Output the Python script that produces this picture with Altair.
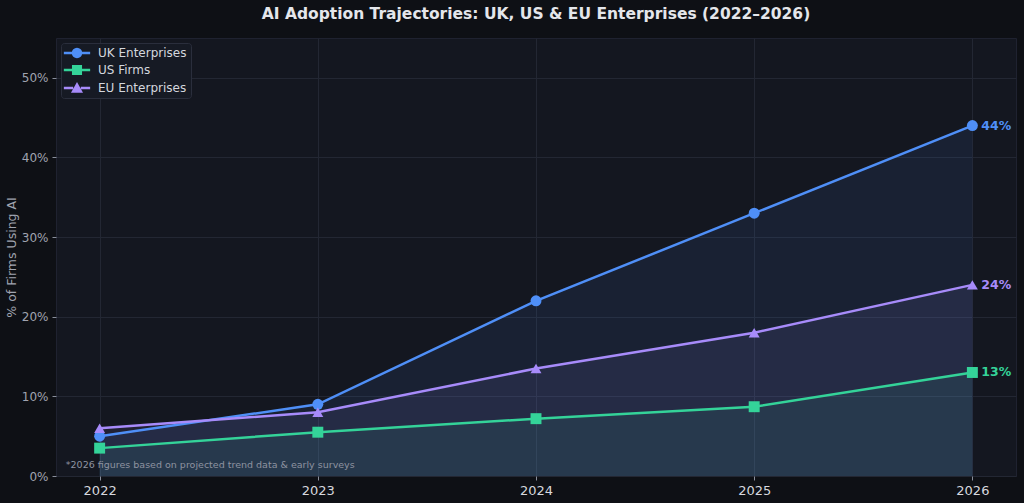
import math
import altair as alt
import pandas as pd

years = [2022, 2023, 2024, 2025, 2026]
series_names = ["UK Enterprises", "US Firms", "EU Enterprises"]
uk = [5, 9, 22, 33, 44]
us = [3.5, 5.5, 7.2, 8.7, 13]
eu = [6, 8, 13.5, 18, 24]
colors = ["#4f8ff7", "#34d399", "#a78bfa"]
shapes = ["circle", "square", "triangle-up"]
y_ticks = [0, 10, 20, 30, 40, 50]
footnote = "*2026 figures based on projected trend data & early surveys"

rows = []
for name, vals in zip(series_names, [uk, us, eu]):
    for yr, v in zip(years, vals):
        rows.append({"year": yr, "value": v, "series": name})
df = pd.DataFrame(rows)
df["label"] = df["value"].map(lambda v: f"{v:g}%")


# legend symbols: a short line with the marker on it (custom SVG paths, unit coords)
def _poly(pts):
    return "M" + " L".join(f"{x:.3f},{y:.3f}" for x, y in pts) + " Z"


def _line_bits(half_len=2.4, half_th=0.23, gap=0.7):
    return (_poly([(-half_len, -half_th), (-gap, -half_th), (-gap, half_th), (-half_len, half_th)]) +
            _poly([(gap, -half_th), (half_len, -half_th), (half_len, half_th), (gap, half_th)]))


_circle = _poly([(0.95 * math.cos(2 * math.pi * k / 32), 0.95 * math.sin(2 * math.pi * k / 32))
                 for k in range(32)])
_square = _poly([(-0.92, -0.92), (0.92, -0.92), (0.92, 0.92), (-0.92, 0.92)])
_tri = _poly([(0, -1.1), (1.1, 0.85), (-1.1, 0.85)])
legend_shapes = [_line_bits() + _circle, _line_bits() + _square, _line_bits() + _tri]

FONT = "DejaVu Sans"
xs = alt.Scale(domain=[2021.8, 2026.2], nice=False, zero=False)
ys = alt.Scale(domain=[0, 55], nice=False)
cs = alt.Scale(domain=series_names, range=colors)
ss = alt.Scale(domain=series_names, range=legend_shapes)

x_enc = alt.X("year:Q", scale=xs, title=None,
              axis=alt.Axis(values=years, format="d", labelColor="#d6d8de", labelFontSize=13,
                            tickColor="#8a8f9c", tickSize=4, labelPadding=4,
                            gridColor="#232733", domain=False))
y_enc = alt.Y("value:Q", scale=ys, title="% of Firms Using AI", stack=None,
              axis=alt.Axis(values=y_ticks, labelExpr="datum.value + '%'", labelColor="#a0a4b0",
                            labelFontSize=12, tickColor="#8a8f9c", tickSize=4, labelPadding=4,
                            titleColor="#a0a4b0", titleFontSize=12.5, titleFontWeight="normal",
                            titlePadding=3, gridColor="#232733", domain=False))
x_plain = alt.X("year:Q", scale=xs)
y_plain = alt.Y("value:Q", scale=ys, stack=None)

layers = []
for i, (name, c) in enumerate(zip(series_names, colors)):
    base = alt.Chart(df).transform_filter(alt.datum.series == name)
    layers.append(base.mark_area(opacity=0.09, color=c).encode(
        x=x_enc if i == 0 else x_plain, y=y_enc if i == 0 else y_plain))
for name, c in zip(series_names, colors):
    base = alt.Chart(df).transform_filter(alt.datum.series == name)
    layers.append(base.mark_line(strokeWidth=2.5, color=c).encode(x=x_plain, y=y_plain))
for name, c, s in zip(series_names, colors, shapes):
    base = alt.Chart(df).transform_filter(alt.datum.series == name)
    layers.append(base.mark_point(filled=True, opacity=1, size=120, color=c, shape=s)
                  .encode(x=x_plain, y=y_plain))

# legend-only layer (no rows drawn; legend comes from the explicit scale domains)
legend_layer = alt.Chart(df).transform_filter("false").mark_point(
    filled=True, opacity=1, size=120).encode(
    x=x_plain, y=y_plain,
    color=alt.Color("series:N", scale=cs, title=None,
                    legend=alt.Legend(orient="top-left", offset=5, padding=4,
                                      fillColor="#161a24", strokeColor="#2a2e3c",
                                      cornerRadius=3, labelColor="#d4d7de", labelFontSize=12,
                                      labelFont=FONT, symbolSize=120, rowPadding=5,
                                      symbolOffset=6, labelOffset=15,
                                      symbolStrokeWidth=0)),
    shape=alt.Shape("series:N", scale=ss, title=None),
)
layers.append(legend_layer)

for name, c in zip(series_names, colors):
    layers.append(
        alt.Chart(df).transform_filter(
            (alt.datum.series == name) & (alt.datum.year == 2026)
        ).mark_text(align="left", dx=9, fontWeight="bold", fontSize=12.5, font=FONT,
                    color=c).encode(x=x_plain, y=y_plain, text="label:N")
    )

foot = alt.Chart(pd.DataFrame({"x": [2021.845], "y": [1.4], "t": [footnote]})).mark_text(
    align="left", baseline="middle", fontSize=9.5, color="#8e93a0", font=FONT
).encode(x=alt.X("x:Q", scale=xs), y=alt.Y("y:Q", scale=ys), text="t:N")
layers.append(foot)

chart = alt.layer(*layers).properties(
    width=960, height=438,
    title=alt.Title("AI Adoption Trajectories: UK, US & EU Enterprises (2022–2026)",
                    fontSize=15.5, fontWeight="bold", color="#e4e6eb", font=FONT,
                    anchor="middle", offset=16),
    background="#0e1015",
    padding={"left": 56, "top": 38, "right": 8, "bottom": 27},
    autosize=alt.AutoSizeParams(type="none"),
).configure_view(fill="#141720", stroke="#1f2230").configure_axis(
    labelFont=FONT, titleFont=FONT
)

chart.save("out.html", embed_options={"renderer": "svg", "actions": False})
